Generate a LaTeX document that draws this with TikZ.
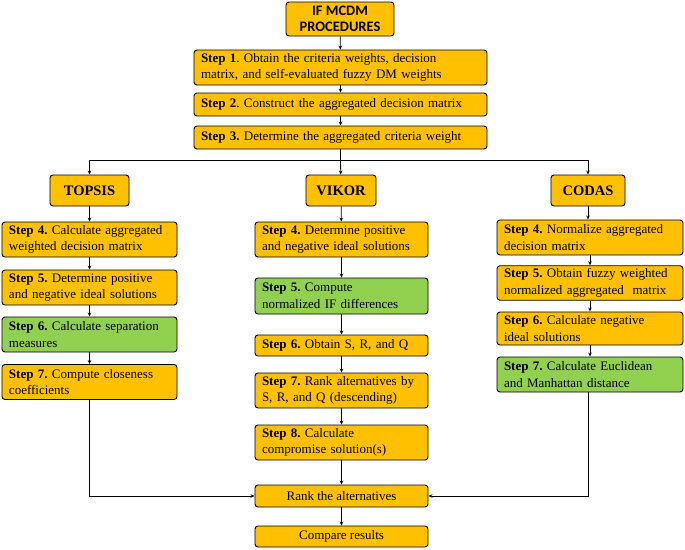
\documentclass[tikz,border=0pt]{standalone}
\usepackage{fontspec}
\setmainfont{Liberation Serif}
\newfontfamily\titlefont{Carlito}
\usepackage{tikz}
\usetikzlibrary{calc, arrows.meta}
\definecolor{stepor}{HTML}{FFC000}
\definecolor{stepgr}{HTML}{92D050}
\frenchspacing
\tikzset{
  box/.style={draw=black, line width=0.9pt, rounded corners=3pt, fill=stepor, inner sep=3pt,
    font=\fontsize{13}{16.5}\selectfont},
  stepbox/.style={box, align=left, inner xsep=7pt, text width=#1-14pt},
  greenbox/.style={stepbox=#1, fill=stepgr},
  headbox/.style={box, minimum height=31pt, font=\bfseries\fontsize{14.5}{17}\selectfont},
  link/.style={-{Stealth[length=4pt,width=3.5pt]}, line width=0.8pt}
}
\begin{document}
\begin{tikzpicture}[x=1pt, y=-1pt]
                \useasboundingbox (0,0) rectangle (685,549);
                \node[box, minimum width=108pt, minimum height=34pt, align=center, font=\titlefont\bfseries\fontsize{14.5}{16}\selectfont] (proc) at (340,19) {IF MCDM\\PROCEDURES};
                \node[stepbox=293pt, minimum height=35pt] (s1) at (340.5,67.5) {\textbf{Step 1}. Obtain the criteria weights, decision\\matrix, and self-evaluated fuzzy DM weights};
                \node[stepbox=293pt, minimum height=23pt] (s2) at (340.5,104.5) {\textbf{Step 2}. Construct the aggregated decision matrix};
                \node[stepbox=293pt, minimum height=23pt] (s3) at (340.5,137.5) {\textbf{Step 3.} Determine the aggregated criteria weight};
                \coordinate (br) at (340.5,160);
                % methods
                \node[headbox, minimum width=79pt] (topsis) at (89.5,190.5) {TOPSIS};
                \node[headbox, minimum width=70pt] (vikor) at (341,190.5) {VIKOR};
                \node[headbox, minimum width=74pt] (codas) at (588,190.5) {CODAS};
                % TOPSIS
                \node[stepbox=175pt, minimum height=35pt] (t4) at (89.5,239.5) {\textbf{Step 4.} Calculate aggregated\\weighted decision matrix};
                \node[stepbox=175pt, minimum height=35pt] (t5) at (89.5,287.5) {\textbf{Step 5.} Determine positive\\and negative ideal solutions};
                \node[greenbox=175pt, minimum height=35pt] (t6) at (89.5,334.5) {\textbf{Step 6.} Calculate separation\\measures};
                \node[stepbox=175pt, minimum height=35pt] (t7) at (89.5,382) {\textbf{Step 7.} Compute closeness\\coefficients};
                % VIKOR
                \node[stepbox=173pt, minimum height=35pt] (v4) at (341.5,239.5) {\textbf{Step 4.} Determine positive\\and negative ideal solutions};
                \node[greenbox=173pt, minimum height=36pt] (v5) at (341.5,296) {\textbf{Step 5.} Compute\\normalized IF differences};
                \node[stepbox=173pt, minimum height=21pt] (v6) at (341.5,345.5) {\textbf{Step 6.} Obtain S, R, and Q};
                \node[stepbox=173pt, minimum height=35pt] (v7) at (341.5,390.5) {\textbf{Step 7.} Rank alternatives by\\S, R, and Q (descending)};
                \node[stepbox=173pt, minimum height=35pt] (v8) at (341.5,442.5) {\textbf{Step 8.} Calculate\\compromise solution(s)};
                % CODAS
                \node[stepbox=186pt, minimum height=35pt] (c4) at (590,237.5) {\textbf{Step 4.} Normalize aggregated\\decision matrix};
                \node[stepbox=186pt, minimum height=34pt] (c5) at (590,283) {\textbf{Step 5.} Obtain fuzzy weighted\\normalized aggregated~~matrix};
                \node[stepbox=186pt, minimum height=33pt] (c6) at (590,328.5) {\textbf{Step 6.} Calculate negative\\ideal solutions};
                \node[greenbox=186pt, minimum height=35pt] (c7) at (590,374.5) {\textbf{Step 7.} Calculate Euclidean\\and Manhattan distance};
                % results
                \node[box, minimum width=173pt, minimum height=22pt] (rank) at (341.5,496) {Rank the alternatives};
                \node[box, minimum width=173pt, minimum height=21pt] (comp) at (341.5,536.5) {Compare results};
                \draw[link] (proc) -- (s1);
                \draw[link] (s1) -- (s2);
                \draw[link] (s2) -- (s3);
                \draw[line width=0.8pt] (s3) -- (br);
                \draw[link] (br) -| (topsis);
                \draw[link] (br) -- (vikor);
                \draw[link] (br) -| (codas);
                \draw[link] (topsis) -- (t4);
                \draw[link] (t4) -- (t5);
                \draw[link] (t5) -- (t6);
                \draw[link] (t6) -- (t7);
                \draw[link] (vikor) -- (v4);
                \draw[link] (v4) -- (v5);
                \draw[link] (v5) -- (v6);
                \draw[link] (v6) -- (v7);
                \draw[link] (v7) -- (v8);
                \draw[link] (codas) -- (codas|-c4.north);
                \draw[link] (c4) -- (c5);
                \draw[link] (c5) -- (c6);
                \draw[link] (c6) -- (c7);
                \draw[link] (t7) |- (rank);
                \draw[link] (codas|-c7.south) |- (rank);
                \draw[link] (v8) -- (rank);
                \draw[link] (rank) -- (comp);
            \end{tikzpicture}
\end{document}
